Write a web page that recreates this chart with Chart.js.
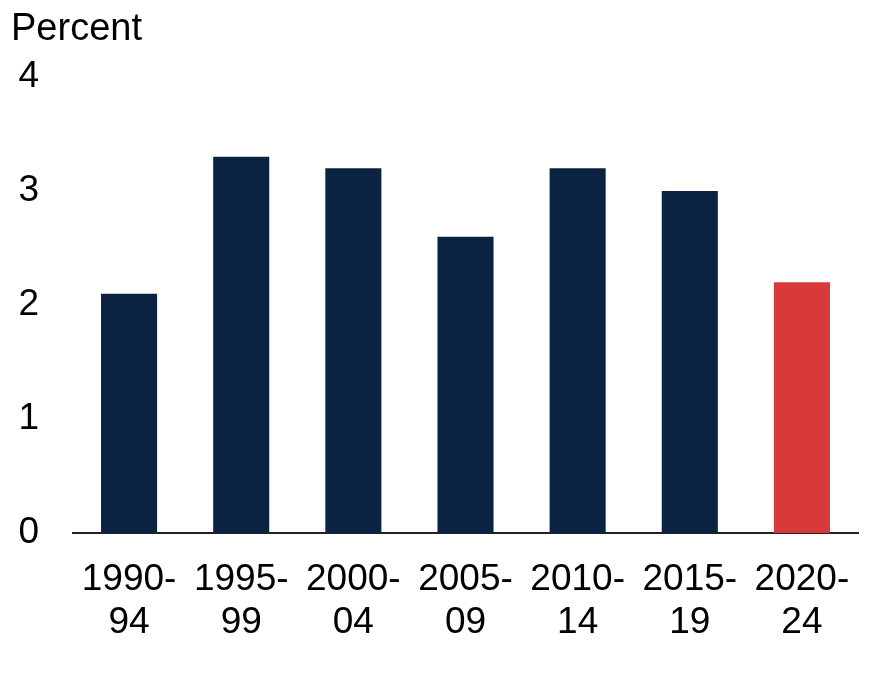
<!DOCTYPE html>
<html>
<head>
<meta charset="utf-8">
<script src="https://cdn.jsdelivr.net/npm/chart.js@4"></script>
<style>
  html, body { margin:0; padding:0; background:#fff; }
  #wrap { width:894px; height:682px; position:relative; }
</style>
</head>
<body>
<div id="wrap"><canvas id="chart"></canvas></div>
<script>
"use strict";
const periods = [['1990-','94'], ['1995-','99'], ['2000-','04'], ['2005-','09'], ['2010-','14'], ['2015-','19'], ['2020-','24']];
const growth  = [2.1, 3.3, 3.2, 2.6, 3.2, 3.0, 2.2];
const yTicks  = [0, 1, 2, 3, 4];
const unitLabel = 'Percent';

const NAVY = '#0B2343', RED = '#D83A39';
const FONT = "'Liberation Sans', Arial, sans-serif";
const barColors = growth.map((_, i) => i === growth.length - 1 ? RED : NAVY);

// "Percent" label above the axis
const unitPlugin = {
  id: 'unitLabel',
  afterDraw(chart) {
    const ctx = chart.ctx;
    ctx.save();
    ctx.font = `38px ${FONT}`;
    ctx.fillStyle = '#000';
    ctx.textAlign = 'left';
    ctx.textBaseline = 'alphabetic';
    ctx.fillText(unitLabel, 11, 40);
    ctx.restore();
  }
};

new Chart(document.getElementById('chart'), {
  type: 'bar',
  data: {
    labels: periods,
    datasets: [{
      data: growth,
      backgroundColor: barColors,
      borderWidth: 0,
      barPercentage: 0.5,
      categoryPercentage: 1.0
    }]
  },
  options: {
    responsive: true,
    maintainAspectRatio: false,
    animation: false,
    layout: { padding: { top: 77, right: 36, bottom: 13, left: 18 } },
    plugins: { legend: { display: false }, tooltip: { enabled: false } },
    scales: {
      x: {
        grid: { display: false, drawTicks: false },
        border: { display: true, color: '#222', width: 2 },
        ticks: { color: '#000', font: { family: FONT, size: 37, lineHeight: 1.16 }, padding: 25, maxRotation: 0, autoSkip: false },
        afterFit: axis => { axis.paddingLeft = 0; axis.paddingRight = 0; }
      },
      y: {
        min: 0, max: 4,
        afterBuildTicks: axis => { axis.ticks = yTicks.map(v => ({ value: v })); },
        afterFit: axis => { axis.width = 55; },
        grid: { display: false, drawTicks: false },
        border: { display: false },
        ticks: { color: '#000', font: { family: FONT, size: 37 }, padding: 34 }
      }
    }
  },
  plugins: [unitPlugin]
});
</script>
</body>
</html>
